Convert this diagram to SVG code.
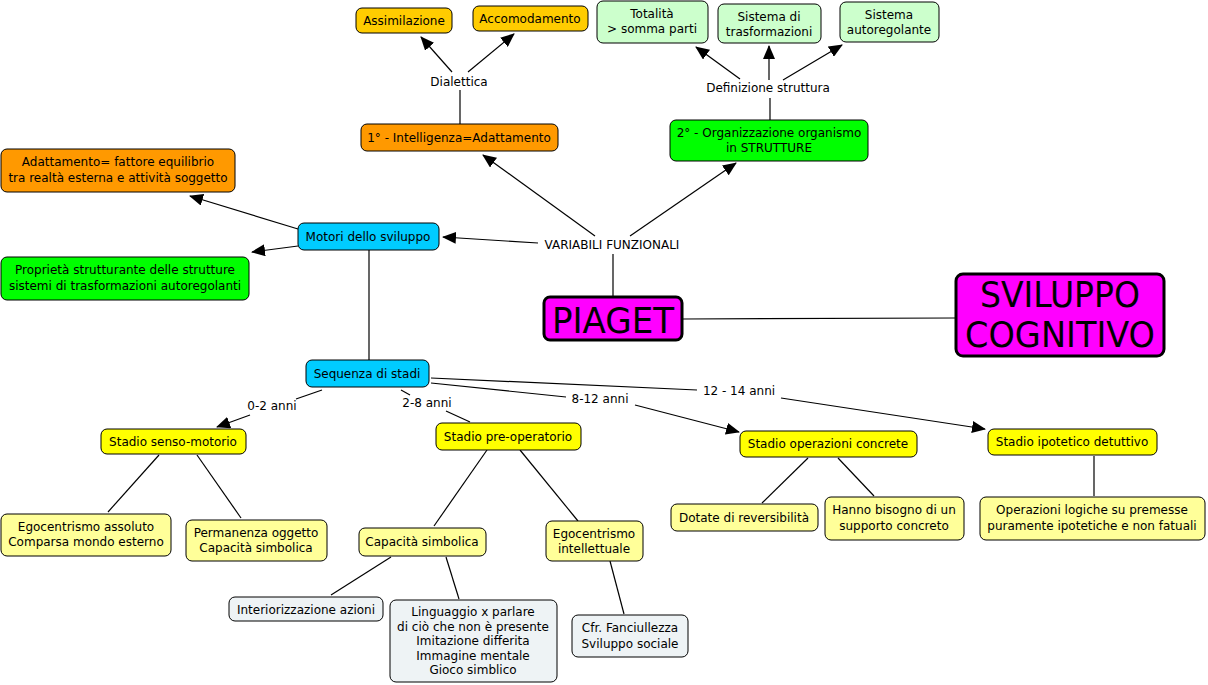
<svg xmlns="http://www.w3.org/2000/svg" width="1208" height="685" viewBox="0 0 1208 685">
<defs>
<marker id="ah" markerWidth="14" markerHeight="12" refX="13" refY="6" orient="auto" markerUnits="userSpaceOnUse"><path d="M0,0 L14,6 L0,12 Z" fill="#000"/></marker>
<style>
.n rect{stroke:#000;stroke-width:1}
.n text,.lbl{font-family:"DejaVu Sans",Verdana,sans-serif;font-size:12px;fill:#000;text-anchor:middle}
.lbl{font-size:12px}
.big text{font-family:"DejaVu Sans Condensed","DejaVu Sans",sans-serif;font-size:36px}
.big rect{stroke-width:3}
#conn line{stroke:#000;stroke-width:1.2}
.a{marker-end:url(#ah)}
.gold{fill:#ffcc00}.lg{fill:#ccffcc}.or{fill:#ff9900}.gr{fill:#00ff00}.cy{fill:#00ccff}.ye{fill:#ffff00}.ly{fill:#ffff99}.gy{fill:#eef3f5}.mg{fill:#ff00ff}
</style>
</defs>
<rect width="1208" height="685" fill="#fff"/>
<g id="conn">
<line x1="452" y1="72" x2="421" y2="37" class="a"/>
<line x1="468" y1="72" x2="514" y2="34" class="a"/>
<line x1="460" y1="90" x2="460" y2="124"/>
<line x1="740" y1="79" x2="696" y2="47" class="a"/>
<line x1="769" y1="80" x2="769" y2="46" class="a"/>
<line x1="783" y1="80" x2="842" y2="45" class="a"/>
<line x1="770" y1="98" x2="770" y2="120"/>
<line x1="595" y1="236" x2="483" y2="155" class="a"/>
<line x1="630" y1="236" x2="736" y2="163" class="a"/>
<line x1="538" y1="243" x2="443" y2="237" class="a"/>
<line x1="613" y1="254" x2="613" y2="296"/>
<line x1="683" y1="319" x2="955" y2="318"/>
<line x1="298" y1="229" x2="190" y2="196" class="a"/>
<line x1="298" y1="246" x2="252" y2="252" class="a"/>
<line x1="369" y1="250" x2="369" y2="360"/>
<line x1="322" y1="390" x2="296" y2="399"/>
<line x1="250" y1="415" x2="217" y2="427" class="a"/>
<line x1="401" y1="390" x2="410" y2="395"/>
<line x1="446" y1="411" x2="470" y2="422"/>
<line x1="431" y1="383" x2="566" y2="397"/>
<line x1="635" y1="405" x2="739" y2="432" class="a"/>
<line x1="431" y1="378" x2="697" y2="390"/>
<line x1="781" y1="398" x2="985" y2="429" class="a"/>
<line x1="159" y1="455" x2="108" y2="512"/>
<line x1="197" y1="455" x2="241" y2="518"/>
<line x1="487" y1="450" x2="434" y2="526"/>
<line x1="520" y1="450" x2="578" y2="521"/>
<line x1="391" y1="557" x2="331" y2="595"/>
<line x1="446" y1="557" x2="459" y2="599"/>
<line x1="610" y1="561" x2="624" y2="614"/>
<line x1="808" y1="458" x2="762" y2="503"/>
<line x1="838" y1="458" x2="874" y2="496"/>
<line x1="1094" y1="456" x2="1094" y2="496"/>
<text class="lbl" x="459" y="86">Dialettica</text>
<text class="lbl" x="768" y="92">Definizione struttura</text>
<text class="lbl" x="612" y="249">VARIABILI FUNZIONALI</text>
<text class="lbl" x="272" y="410">0-2 anni</text>
<text class="lbl" x="427" y="407">2-8 anni</text>
<text class="lbl" x="600" y="403">8-12 anni</text>
<text class="lbl" x="739" y="395">12 - 14 anni</text>
</g>
<g id="assimilazione" class="n"><rect class="gold" x="356" y="8" width="96" height="25" rx="6"/><text x="404" y="25">Assimilazione</text></g>
<g id="accomodamento" class="n"><rect class="gold" x="473" y="6" width="115" height="25" rx="6"/><text x="530" y="23">Accomodamento</text></g>
<g id="totalita" class="n"><rect class="lg" x="597" y="1" width="111" height="42" rx="6"/><text x="652" y="18">Totalità</text><text x="652" y="33">&gt; somma parti</text></g>
<g id="sistema-trasf" class="n"><rect class="lg" x="718" y="4" width="103" height="39" rx="6"/><text x="769" y="21">Sistema di</text><text x="769" y="36">trasformazioni</text></g>
<g id="sistema-auto" class="n"><rect class="lg" x="840" y="2" width="99" height="40" rx="6"/><text x="889" y="19">Sistema</text><text x="889" y="34">autoregolante</text></g>
<g id="intelligenza" class="n"><rect class="or" x="361" y="124" width="197" height="27" rx="6"/><text x="459" y="142">1° - Intelligenza=Adattamento</text></g>
<g id="organizzazione" class="n"><rect class="gr" x="670" y="120" width="198" height="41" rx="6"/><text x="769" y="137">2° - Organizzazione organismo</text><text x="769" y="152">in STRUTTURE</text></g>
<g id="adattamento" class="n"><rect class="or" x="1" y="149" width="234" height="43" rx="6"/><text x="118" y="166">Adattamento= fattore equilibrio</text><text x="118" y="182">tra realtà esterna e attività soggetto</text></g>
<g id="proprieta" class="n"><rect class="gr" x="1" y="257" width="248" height="43" rx="6"/><text x="125" y="274">Proprietà strutturante delle strutture</text><text x="125" y="290">sistemi di trasformazioni autoregolanti</text></g>
<g id="motori" class="n"><rect class="cy" x="298" y="223" width="141" height="27" rx="6"/><text x="368" y="241">Motori dello sviluppo</text></g>
<g id="piaget" class="n big"><rect class="mg" x="544" y="297" width="138" height="43" rx="6"/><text x="613" y="333" textLength="122" lengthAdjust="spacingAndGlyphs">PIAGET</text></g>
<g id="sviluppo" class="n big"><rect class="mg" x="956" y="274" width="208" height="82" rx="7"/><text x="1060" y="307" textLength="160" lengthAdjust="spacingAndGlyphs">SVILUPPO</text><text x="1060" y="347" textLength="190" lengthAdjust="spacingAndGlyphs">COGNITIVO</text></g>
<g id="sequenza" class="n"><rect class="cy" x="306" y="360" width="123" height="27" rx="6"/><text x="367" y="378">Sequenza di stadi</text></g>
<g id="senso-motorio" class="n"><rect class="ye" x="101" y="429" width="145" height="25" rx="6"/><text x="173" y="446">Stadio senso-motorio</text></g>
<g id="pre-operatorio" class="n"><rect class="ye" x="436" y="423" width="145" height="27" rx="6"/><text x="508" y="441">Stadio pre-operatorio</text></g>
<g id="op-concrete" class="n"><rect class="ye" x="740" y="431" width="177" height="26" rx="6"/><text x="828" y="448">Stadio operazioni concrete</text></g>
<g id="ipotetico" class="n"><rect class="ye" x="988" y="429" width="169" height="26" rx="6"/><text x="1072" y="446">Stadio ipotetico detuttivo</text></g>
<g id="egocentrismo-assoluto" class="n"><rect class="ly" x="1" y="514" width="170" height="42" rx="6"/><text x="86" y="531">Egocentrismo assoluto</text><text x="86" y="546">Comparsa mondo esterno</text></g>
<g id="permanenza" class="n"><rect class="ly" x="186" y="520" width="141" height="41" rx="6"/><text x="256" y="537">Permanenza oggetto</text><text x="256" y="552">Capacità simbolica</text></g>
<g id="capacita" class="n"><rect class="ly" x="359" y="528" width="127" height="28" rx="6"/><text x="422" y="546">Capacità simbolica</text></g>
<g id="egocentrismo-intell" class="n"><rect class="ly" x="546" y="521" width="97" height="40" rx="6"/><text x="594" y="538">Egocentrismo</text><text x="594" y="553">intellettuale</text></g>
<g id="reversibilita" class="n"><rect class="ly" x="671" y="504" width="147" height="27" rx="6"/><text x="744" y="522">Dotate di reversibilità</text></g>
<g id="supporto" class="n"><rect class="ly" x="825" y="497" width="139" height="43" rx="6"/><text x="894" y="514">Hanno bisogno di un</text><text x="894" y="530">supporto concreto</text></g>
<g id="operazioni-logiche" class="n"><rect class="ly" x="980" y="497" width="225" height="43" rx="6"/><text x="1092" y="514">Operazioni logiche su premesse</text><text x="1092" y="530">puramente ipotetiche e non fatuali</text></g>
<g id="interiorizzazione" class="n"><rect class="gy" x="229" y="597" width="154" height="24" rx="6"/><text x="306" y="614">Interiorizzazione azioni</text></g>
<g id="linguaggio" class="n"><rect class="gy" x="390" y="600" width="167" height="82" rx="6"/><text x="473" y="616">Linguaggio x parlare</text><text x="473" y="631">di ciò che non è presente</text><text x="473" y="645">Imitazione differita</text><text x="473" y="660">Immagine mentale</text><text x="473" y="674">Gioco simblico</text></g>
<g id="fanciullezza" class="n"><rect class="gy" x="572" y="615" width="116" height="42" rx="6"/><text x="630" y="632">Cfr. Fanciullezza</text><text x="630" y="648">Sviluppo sociale</text></g>
</svg>
